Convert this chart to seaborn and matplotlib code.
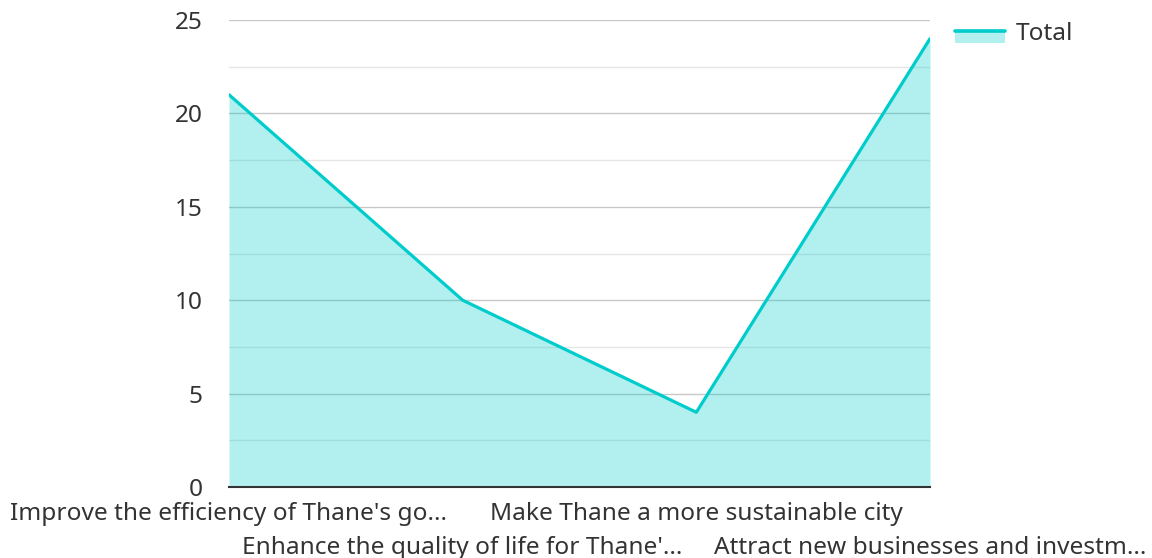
import numpy as np
import pandas as pd
import matplotlib
matplotlib.use("Agg")
import matplotlib.pyplot as plt
import seaborn as sns
from matplotlib.legend_handler import HandlerBase
from matplotlib.patches import Rectangle
from matplotlib.lines import Line2D
from matplotlib.ticker import MultipleLocator

categories = [
    "Improve the efficiency of Thane's go...",
    "Enhance the quality of life for Thane'...",
    "Make Thane a more sustainable city",
    "Attract new businesses and investm...",
]
totals = [21, 10, 4, 24]
series_name = "Total"

sns.set_theme(style="white")
plt.rcParams['font.family'] = ['Noto Sans', 'DejaVu Sans']

LINE = "#00cccc"
TEXT = "#333333"
FS = 17.6

df = pd.DataFrame({"x": np.arange(len(categories)), "y": totals})

fig = plt.figure(figsize=(11.52, 5.58), dpi=100)
ax = fig.add_axes([229/1152, 1-487/558, (930-229)/1152, (487-20)/558])

ax.fill_between(df["x"], df["y"], 0, color=LINE, alpha=0.3, linewidth=0, zorder=2)
sns.lineplot(data=df, x="x", y="y", ax=ax, color=LINE, linewidth=2.3, zorder=3, legend=False)

ax.set_xlim(0, len(categories) - 1)
ax.set_ylim(0, 25)
ax.yaxis.set_major_locator(MultipleLocator(5))
ax.yaxis.set_minor_locator(MultipleLocator(2.5))
ax.grid(False)
ax.grid(axis="y", which="major", color="#c8c8c8", linewidth=1.0, zorder=1)
ax.grid(axis="y", which="minor", color="#e6e6e6", linewidth=1.0, zorder=1)
ax.set_axisbelow(True)

for s in ["top", "right", "left"]:
    ax.spines[s].set_visible(False)
ax.spines["bottom"].set_color("#333333")
ax.spines["bottom"].set_linewidth(1.5)
ax.spines["bottom"].set_zorder(4)

ax.set_xlabel("")
ax.set_ylabel("")
ax.tick_params(axis="y", which="both", length=0, labelsize=FS, labelcolor=TEXT, pad=19)
ax.yaxis.set_tick_params(which="minor", labelleft=False)
for t in ax.get_yticklabels():
    t.set_verticalalignment("center_baseline")

# staggered category labels: even ones on the first row (major ticks), odd ones on the second (minor ticks)
xs = df["x"].to_numpy()
ax.set_xticks(xs[0::2])
ax.set_xticklabels(categories[0::2])
ax.set_xticks(xs[1::2], minor=True)
ax.set_xticklabels(categories[1::2], minor=True)
ax.tick_params(axis="x", which="major", length=0, labelsize=FS, labelcolor=TEXT, pad=11)
ax.tick_params(axis="x", which="minor", length=0, labelsize=FS, labelcolor=TEXT, pad=35)


class AreaHandler(HandlerBase):
    def create_artists(self, legend, orig_handle, xdescent, ydescent, width, height, fontsize, trans):
        rect = Rectangle((-xdescent, -ydescent - height * 0.2), width, height * 0.7,
                         facecolor=LINE, alpha=0.3, edgecolor="none", transform=trans)
        ln = Line2D([-xdescent, -xdescent + width], [-ydescent + height * 0.5] * 2,
                    color=LINE, linewidth=2.6, transform=trans)
        return [rect, ln]


proxy = Line2D([], [], color=LINE)
leg = fig.legend([proxy], [series_name], handler_map={Line2D: AreaHandler()},
                 loc="upper left", bbox_to_anchor=(933/1152, 1-0/558),
                 frameon=False, fontsize=FS, handlelength=2.06, handletextpad=0.42)
for t in leg.get_texts():
    t.set_color(TEXT)

fig.savefig("out.png", dpi=100)
